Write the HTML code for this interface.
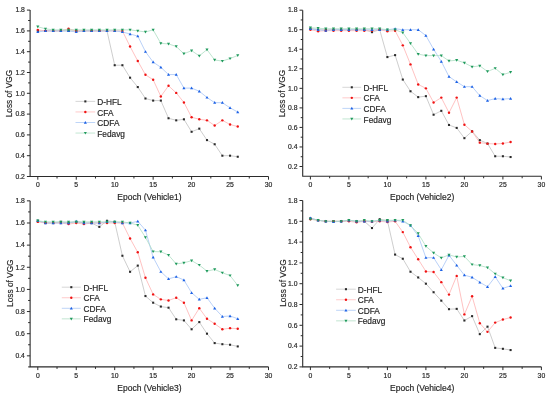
<!DOCTYPE html>
<html><head><meta charset="utf-8"><style>
html,body{margin:0;padding:0;background:#fff;}
body{width:550px;height:397px;overflow:hidden;}
svg{display:block;font-family:"Liberation Sans", sans-serif;will-change:transform;} text{stroke:#2a2a2a;stroke-width:0.18px;}
</style></head><body>
<svg width="550" height="397" viewBox="0 0 550 397">
<rect width="550" height="397" fill="#fff"/>
<g><path d="M30.11 10.10V176.50H268.50" fill="none" stroke="#2b2b2b" stroke-width="1.1"/><text x="24.91" y="178.80" text-anchor="end" font-size="6.8" fill="#1e1e1e">0.2</text><text x="24.91" y="158.00" text-anchor="end" font-size="6.8" fill="#1e1e1e">0.4</text><text x="24.91" y="137.20" text-anchor="end" font-size="6.8" fill="#1e1e1e">0.6</text><text x="24.91" y="116.40" text-anchor="end" font-size="6.8" fill="#1e1e1e">0.8</text><text x="24.91" y="95.60" text-anchor="end" font-size="6.8" fill="#1e1e1e">1.0</text><text x="24.91" y="74.80" text-anchor="end" font-size="6.8" fill="#1e1e1e">1.2</text><text x="24.91" y="54.00" text-anchor="end" font-size="6.8" fill="#1e1e1e">1.4</text><text x="24.91" y="33.20" text-anchor="end" font-size="6.8" fill="#1e1e1e">1.6</text><text x="24.91" y="12.40" text-anchor="end" font-size="6.8" fill="#1e1e1e">1.8</text><text x="37.80" y="187.30" text-anchor="middle" font-size="6.8" fill="#1e1e1e">0</text><text x="76.25" y="187.30" text-anchor="middle" font-size="6.8" fill="#1e1e1e">5</text><text x="114.70" y="187.30" text-anchor="middle" font-size="6.8" fill="#1e1e1e">10</text><text x="153.15" y="187.30" text-anchor="middle" font-size="6.8" fill="#1e1e1e">15</text><text x="191.60" y="187.30" text-anchor="middle" font-size="6.8" fill="#1e1e1e">20</text><text x="230.05" y="187.30" text-anchor="middle" font-size="6.8" fill="#1e1e1e">25</text><text x="268.50" y="187.30" text-anchor="middle" font-size="6.8" fill="#1e1e1e">30</text><path d="M26.91 176.50H30.11M28.11 166.10H30.11M26.91 155.70H30.11M28.11 145.30H30.11M26.91 134.90H30.11M28.11 124.50H30.11M26.91 114.10H30.11M28.11 103.70H30.11M26.91 93.30H30.11M28.11 82.90H30.11M26.91 72.50H30.11M28.11 62.10H30.11M26.91 51.70H30.11M28.11 41.30H30.11M26.91 30.90H30.11M28.11 20.50H30.11M26.91 10.10H30.11M37.80 176.50v3.2M76.25 176.50v3.2M114.70 176.50v3.2M153.15 176.50v3.2M191.60 176.50v3.2M230.05 176.50v3.2M268.50 176.50v3.2M57.02 176.50v2M95.47 176.50v2M133.93 176.50v2M172.38 176.50v2M210.82 176.50v2M249.28 176.50v2" stroke="#2b2b2b" stroke-width="1"/><text x="149.41" y="200.10" text-anchor="middle" font-size="8.5" fill="#1e1e1e">Epoch (Vehicle1)</text><text transform="translate(12.30 93.60) rotate(-90)" text-anchor="middle" font-size="8.3" fill="#1e1e1e">Loss of VGG</text><polyline points="37.80,30.90 45.49,30.90 53.18,30.90 60.87,30.90 68.56,30.90 76.25,30.90 83.94,30.90 91.63,30.90 99.32,30.90 107.01,30.90 114.70,65.22 122.39,65.22 130.08,77.70 137.77,87.06 145.46,98.50 153.15,100.58 160.84,100.58 168.53,118.26 176.22,120.34 183.91,119.30 191.60,131.78 199.29,128.66 206.98,140.10 214.67,144.26 222.36,155.70 230.05,155.70 237.74,156.74" fill="none" stroke="#bdbdbd" stroke-width="0.75"/><polyline points="37.80,29.86 45.49,30.90 53.18,30.90 60.87,30.90 68.56,28.82 76.25,30.90 83.94,30.90 91.63,30.90 99.32,30.90 107.01,30.90 114.70,30.90 122.39,30.90 130.08,46.50 137.77,61.06 145.46,74.79 153.15,79.78 160.84,96.42 168.53,85.81 176.22,92.88 183.91,102.45 191.60,117.22 199.29,119.30 206.98,120.34 214.67,125.54 222.36,120.34 230.05,124.50 237.74,126.58" fill="none" stroke="#ffadad" stroke-width="0.75"/><polyline points="37.80,31.94 45.49,30.90 53.18,30.90 60.87,30.90 68.56,30.90 76.25,31.94 83.94,30.90 91.63,30.90 99.32,30.90 107.01,30.90 114.70,30.90 122.39,31.94 130.08,34.02 137.77,36.10 145.46,51.70 153.15,62.10 160.84,67.30 168.53,74.58 176.22,74.58 183.91,88.10 191.60,88.10 199.29,91.22 206.98,97.46 214.67,102.66 222.36,102.66 230.05,107.86 237.74,112.02" fill="none" stroke="#a3c2f5" stroke-width="0.75"/><polyline points="37.80,26.74 45.49,28.82 53.18,29.86 60.87,29.86 68.56,29.86 76.25,29.86 83.94,29.86 91.63,29.86 99.32,29.86 107.01,29.86 114.70,29.86 122.39,29.86 130.08,29.86 137.77,30.90 145.46,31.94 153.15,29.86 160.84,43.38 168.53,43.90 176.22,46.50 183.91,53.78 191.60,50.66 199.29,55.86 206.98,49.62 214.67,60.02 222.36,61.06 230.05,58.56 237.74,55.44" fill="none" stroke="#a9dcc0" stroke-width="0.75"/><rect x="36.77" y="29.86" width="2.07" height="2.07" fill="#2a2a2a"/><rect x="44.45" y="29.86" width="2.07" height="2.07" fill="#2a2a2a"/><rect x="52.15" y="29.86" width="2.07" height="2.07" fill="#2a2a2a"/><rect x="59.84" y="29.86" width="2.07" height="2.07" fill="#2a2a2a"/><rect x="67.53" y="29.86" width="2.07" height="2.07" fill="#2a2a2a"/><rect x="75.22" y="29.86" width="2.07" height="2.07" fill="#2a2a2a"/><rect x="82.91" y="29.86" width="2.07" height="2.07" fill="#2a2a2a"/><rect x="90.59" y="29.86" width="2.07" height="2.07" fill="#2a2a2a"/><rect x="98.28" y="29.86" width="2.07" height="2.07" fill="#2a2a2a"/><rect x="105.98" y="29.86" width="2.07" height="2.07" fill="#2a2a2a"/><rect x="113.67" y="64.19" width="2.07" height="2.07" fill="#2a2a2a"/><rect x="121.36" y="64.19" width="2.07" height="2.07" fill="#2a2a2a"/><rect x="129.04" y="76.67" width="2.07" height="2.07" fill="#2a2a2a"/><rect x="136.73" y="86.02" width="2.07" height="2.07" fill="#2a2a2a"/><rect x="144.43" y="97.47" width="2.07" height="2.07" fill="#2a2a2a"/><rect x="152.12" y="99.55" width="2.07" height="2.07" fill="#2a2a2a"/><rect x="159.81" y="99.55" width="2.07" height="2.07" fill="#2a2a2a"/><rect x="167.50" y="117.22" width="2.07" height="2.07" fill="#2a2a2a"/><rect x="175.19" y="119.31" width="2.07" height="2.07" fill="#2a2a2a"/><rect x="182.88" y="118.27" width="2.07" height="2.07" fill="#2a2a2a"/><rect x="190.57" y="130.75" width="2.07" height="2.07" fill="#2a2a2a"/><rect x="198.26" y="127.62" width="2.07" height="2.07" fill="#2a2a2a"/><rect x="205.95" y="139.06" width="2.07" height="2.07" fill="#2a2a2a"/><rect x="213.64" y="143.22" width="2.07" height="2.07" fill="#2a2a2a"/><rect x="221.33" y="154.66" width="2.07" height="2.07" fill="#2a2a2a"/><rect x="229.02" y="154.66" width="2.07" height="2.07" fill="#2a2a2a"/><rect x="236.71" y="155.71" width="2.07" height="2.07" fill="#2a2a2a"/><circle cx="37.80" cy="29.86" r="1.21" fill="#f01414"/><circle cx="45.49" cy="30.90" r="1.21" fill="#f01414"/><circle cx="53.18" cy="30.90" r="1.21" fill="#f01414"/><circle cx="60.87" cy="30.90" r="1.21" fill="#f01414"/><circle cx="68.56" cy="28.82" r="1.21" fill="#f01414"/><circle cx="76.25" cy="30.90" r="1.21" fill="#f01414"/><circle cx="83.94" cy="30.90" r="1.21" fill="#f01414"/><circle cx="91.63" cy="30.90" r="1.21" fill="#f01414"/><circle cx="99.32" cy="30.90" r="1.21" fill="#f01414"/><circle cx="107.01" cy="30.90" r="1.21" fill="#f01414"/><circle cx="114.70" cy="30.90" r="1.21" fill="#f01414"/><circle cx="122.39" cy="30.90" r="1.21" fill="#f01414"/><circle cx="130.08" cy="46.50" r="1.21" fill="#f01414"/><circle cx="137.77" cy="61.06" r="1.21" fill="#f01414"/><circle cx="145.46" cy="74.79" r="1.21" fill="#f01414"/><circle cx="153.15" cy="79.78" r="1.21" fill="#f01414"/><circle cx="160.84" cy="96.42" r="1.21" fill="#f01414"/><circle cx="168.53" cy="85.81" r="1.21" fill="#f01414"/><circle cx="176.22" cy="92.88" r="1.21" fill="#f01414"/><circle cx="183.91" cy="102.45" r="1.21" fill="#f01414"/><circle cx="191.60" cy="117.22" r="1.21" fill="#f01414"/><circle cx="199.29" cy="119.30" r="1.21" fill="#f01414"/><circle cx="206.98" cy="120.34" r="1.21" fill="#f01414"/><circle cx="214.67" cy="125.54" r="1.21" fill="#f01414"/><circle cx="222.36" cy="120.34" r="1.21" fill="#f01414"/><circle cx="230.05" cy="124.50" r="1.21" fill="#f01414"/><circle cx="237.74" cy="126.58" r="1.21" fill="#f01414"/><path d="M37.80 30.39L39.35 33.10L36.25 33.10Z" fill="#1d62e6"/><path d="M45.49 29.35L47.04 32.06L43.94 32.06Z" fill="#1d62e6"/><path d="M53.18 29.35L54.73 32.06L51.63 32.06Z" fill="#1d62e6"/><path d="M60.87 29.35L62.42 32.06L59.32 32.06Z" fill="#1d62e6"/><path d="M68.56 29.35L70.11 32.06L67.01 32.06Z" fill="#1d62e6"/><path d="M76.25 30.39L77.80 33.10L74.70 33.10Z" fill="#1d62e6"/><path d="M83.94 29.35L85.49 32.06L82.39 32.06Z" fill="#1d62e6"/><path d="M91.63 29.35L93.18 32.06L90.08 32.06Z" fill="#1d62e6"/><path d="M99.32 29.35L100.87 32.06L97.77 32.06Z" fill="#1d62e6"/><path d="M107.01 29.35L108.56 32.06L105.46 32.06Z" fill="#1d62e6"/><path d="M114.70 29.35L116.25 32.06L113.15 32.06Z" fill="#1d62e6"/><path d="M122.39 30.39L123.94 33.10L120.84 33.10Z" fill="#1d62e6"/><path d="M130.08 32.47L131.63 35.18L128.53 35.18Z" fill="#1d62e6"/><path d="M137.77 34.55L139.32 37.26L136.22 37.26Z" fill="#1d62e6"/><path d="M145.46 50.15L147.01 52.86L143.91 52.86Z" fill="#1d62e6"/><path d="M153.15 60.55L154.70 63.26L151.60 63.26Z" fill="#1d62e6"/><path d="M160.84 65.75L162.39 68.46L159.29 68.46Z" fill="#1d62e6"/><path d="M168.53 73.03L170.08 75.74L166.98 75.74Z" fill="#1d62e6"/><path d="M176.22 73.03L177.77 75.74L174.67 75.74Z" fill="#1d62e6"/><path d="M183.91 86.55L185.46 89.26L182.36 89.26Z" fill="#1d62e6"/><path d="M191.60 86.55L193.15 89.26L190.05 89.26Z" fill="#1d62e6"/><path d="M199.29 89.67L200.84 92.38L197.74 92.38Z" fill="#1d62e6"/><path d="M206.98 95.91L208.53 98.62L205.43 98.62Z" fill="#1d62e6"/><path d="M214.67 101.11L216.22 103.82L213.12 103.82Z" fill="#1d62e6"/><path d="M222.36 101.11L223.91 103.82L220.81 103.82Z" fill="#1d62e6"/><path d="M230.05 106.31L231.60 109.02L228.50 109.02Z" fill="#1d62e6"/><path d="M237.74 110.47L239.29 113.18L236.19 113.18Z" fill="#1d62e6"/><path d="M37.80 28.29L39.35 25.58L36.25 25.58Z" fill="#1f9a5c"/><path d="M45.49 30.37L47.04 27.66L43.94 27.66Z" fill="#1f9a5c"/><path d="M53.18 31.41L54.73 28.70L51.63 28.70Z" fill="#1f9a5c"/><path d="M60.87 31.41L62.42 28.70L59.32 28.70Z" fill="#1f9a5c"/><path d="M68.56 31.41L70.11 28.70L67.01 28.70Z" fill="#1f9a5c"/><path d="M76.25 31.41L77.80 28.70L74.70 28.70Z" fill="#1f9a5c"/><path d="M83.94 31.41L85.49 28.70L82.39 28.70Z" fill="#1f9a5c"/><path d="M91.63 31.41L93.18 28.70L90.08 28.70Z" fill="#1f9a5c"/><path d="M99.32 31.41L100.87 28.70L97.77 28.70Z" fill="#1f9a5c"/><path d="M107.01 31.41L108.56 28.70L105.46 28.70Z" fill="#1f9a5c"/><path d="M114.70 31.41L116.25 28.70L113.15 28.70Z" fill="#1f9a5c"/><path d="M122.39 31.41L123.94 28.70L120.84 28.70Z" fill="#1f9a5c"/><path d="M130.08 31.41L131.63 28.70L128.53 28.70Z" fill="#1f9a5c"/><path d="M137.77 32.45L139.32 29.74L136.22 29.74Z" fill="#1f9a5c"/><path d="M145.46 33.49L147.01 30.78L143.91 30.78Z" fill="#1f9a5c"/><path d="M153.15 31.41L154.70 28.70L151.60 28.70Z" fill="#1f9a5c"/><path d="M160.84 44.93L162.39 42.22L159.29 42.22Z" fill="#1f9a5c"/><path d="M168.53 45.45L170.08 42.74L166.98 42.74Z" fill="#1f9a5c"/><path d="M176.22 48.05L177.77 45.34L174.67 45.34Z" fill="#1f9a5c"/><path d="M183.91 55.33L185.46 52.62L182.36 52.62Z" fill="#1f9a5c"/><path d="M191.60 52.21L193.15 49.50L190.05 49.50Z" fill="#1f9a5c"/><path d="M199.29 57.41L200.84 54.70L197.74 54.70Z" fill="#1f9a5c"/><path d="M206.98 51.17L208.53 48.46L205.43 48.46Z" fill="#1f9a5c"/><path d="M214.67 61.57L216.22 58.86L213.12 58.86Z" fill="#1f9a5c"/><path d="M222.36 62.61L223.91 59.90L220.81 59.90Z" fill="#1f9a5c"/><path d="M230.05 60.12L231.60 57.40L228.50 57.40Z" fill="#1f9a5c"/><path d="M237.74 57.00L239.29 54.28L236.19 54.28Z" fill="#1f9a5c"/><path d="M75.50 101.40H95.20" stroke="#cdcdcd" stroke-width="0.8"/><rect x="84.31" y="100.37" width="2.07" height="2.07" fill="#2a2a2a"/><text x="97.30" y="105.00" font-size="8.3" fill="#1e1e1e">D-HFL</text><path d="M75.50 111.95H95.20" stroke="#ffbcbc" stroke-width="0.8"/><circle cx="85.35" cy="111.95" r="1.21" fill="#f01414"/><text x="97.30" y="115.55" font-size="8.3" fill="#1e1e1e">CFA</text><path d="M75.50 122.50H95.20" stroke="#adcaf6" stroke-width="0.8"/><path d="M85.35 120.95L86.90 123.66L83.80 123.66Z" fill="#1d62e6"/><text x="97.30" y="126.10" font-size="8.3" fill="#1e1e1e">CDFA</text><path d="M75.50 133.05H95.20" stroke="#b3e0c7" stroke-width="0.8"/><path d="M85.35 134.60L86.90 131.89L83.80 131.89Z" fill="#1f9a5c"/><text x="97.30" y="136.65" font-size="8.3" fill="#1e1e1e">Fedavg</text></g>
<g><path d="M302.70 10.18V176.27H541.40" fill="none" stroke="#2b2b2b" stroke-width="1.1"/><text x="297.50" y="168.80" text-anchor="end" font-size="6.8" fill="#1e1e1e">0.2</text><text x="297.50" y="149.26" text-anchor="end" font-size="6.8" fill="#1e1e1e">0.4</text><text x="297.50" y="129.72" text-anchor="end" font-size="6.8" fill="#1e1e1e">0.6</text><text x="297.50" y="110.18" text-anchor="end" font-size="6.8" fill="#1e1e1e">0.8</text><text x="297.50" y="90.64" text-anchor="end" font-size="6.8" fill="#1e1e1e">1.0</text><text x="297.50" y="71.10" text-anchor="end" font-size="6.8" fill="#1e1e1e">1.2</text><text x="297.50" y="51.56" text-anchor="end" font-size="6.8" fill="#1e1e1e">1.4</text><text x="297.50" y="32.02" text-anchor="end" font-size="6.8" fill="#1e1e1e">1.6</text><text x="297.50" y="12.48" text-anchor="end" font-size="6.8" fill="#1e1e1e">1.8</text><text x="310.40" y="187.30" text-anchor="middle" font-size="6.8" fill="#1e1e1e">0</text><text x="348.90" y="187.30" text-anchor="middle" font-size="6.8" fill="#1e1e1e">5</text><text x="387.40" y="187.30" text-anchor="middle" font-size="6.8" fill="#1e1e1e">10</text><text x="425.90" y="187.30" text-anchor="middle" font-size="6.8" fill="#1e1e1e">15</text><text x="464.40" y="187.30" text-anchor="middle" font-size="6.8" fill="#1e1e1e">20</text><text x="502.90" y="187.30" text-anchor="middle" font-size="6.8" fill="#1e1e1e">25</text><text x="541.40" y="187.30" text-anchor="middle" font-size="6.8" fill="#1e1e1e">30</text><path d="M299.50 166.50H302.70M300.70 156.73H302.70M299.50 146.96H302.70M300.70 137.19H302.70M299.50 127.42H302.70M300.70 117.65H302.70M299.50 107.88H302.70M300.70 98.11H302.70M299.50 88.34H302.70M300.70 78.57H302.70M299.50 68.80H302.70M300.70 59.03H302.70M299.50 49.26H302.70M300.70 39.49H302.70M299.50 29.72H302.70M300.70 19.95H302.70M299.50 10.18H302.70M310.40 176.27v3.2M348.90 176.27v3.2M387.40 176.27v3.2M425.90 176.27v3.2M464.40 176.27v3.2M502.90 176.27v3.2M541.40 176.27v3.2M329.65 176.27v2M368.15 176.27v2M406.65 176.27v2M445.15 176.27v2M483.65 176.27v2M522.15 176.27v2" stroke="#2b2b2b" stroke-width="1"/><text x="422.15" y="200.10" text-anchor="middle" font-size="8.5" fill="#1e1e1e">Epoch (Vehicle2)</text><text transform="translate(285.30 93.50) rotate(-90)" text-anchor="middle" font-size="8.3" fill="#1e1e1e">Loss of VGG</text><polyline points="310.40,28.74 318.10,29.72 325.80,29.72 333.50,29.72 341.20,29.72 348.90,29.72 356.60,29.72 364.30,29.72 372.00,32.16 379.70,29.72 387.40,57.08 395.10,55.12 402.80,79.55 410.50,91.27 418.20,97.13 425.90,96.16 433.60,114.72 441.30,110.81 449.00,124.98 456.70,127.91 464.40,138.17 472.10,131.33 479.80,140.12 487.50,143.54 495.20,156.24 502.90,156.24 510.60,157.02" fill="none" stroke="#bdbdbd" stroke-width="0.75"/><polyline points="310.40,29.72 318.10,31.19 325.80,30.70 333.50,30.70 341.20,30.70 348.90,30.70 356.60,30.70 364.30,30.70 372.00,30.70 379.70,29.72 387.40,31.19 395.10,30.70 402.80,45.35 410.50,64.40 418.20,84.43 425.90,88.34 433.60,102.51 441.30,97.62 449.00,112.76 456.70,97.62 464.40,124.68 472.10,131.43 479.80,142.66 487.50,143.64 495.20,143.93 502.90,143.44 510.60,142.07" fill="none" stroke="#ffadad" stroke-width="0.75"/><polyline points="310.40,28.74 318.10,29.72 325.80,30.70 333.50,29.72 341.20,29.72 348.90,29.72 356.60,29.72 364.30,29.72 372.00,29.72 379.70,29.72 387.40,29.72 395.10,28.74 402.80,29.72 410.50,29.72 418.20,29.72 425.90,35.58 433.60,49.26 441.30,61.47 449.00,76.62 456.70,81.89 464.40,86.68 472.10,86.68 479.80,95.67 487.50,100.55 495.20,98.60 502.90,99.09 510.60,98.60" fill="none" stroke="#a3c2f5" stroke-width="0.75"/><polyline points="310.40,27.77 318.10,28.25 325.80,28.74 333.50,28.74 341.20,28.74 348.90,28.74 356.60,28.74 364.30,28.74 372.00,28.74 379.70,28.74 387.40,29.72 395.10,29.72 402.80,32.65 410.50,43.40 418.20,54.14 425.90,55.61 433.60,55.61 441.30,55.61 449.00,60.98 456.70,60.20 464.40,62.84 472.10,66.85 479.80,65.87 487.50,71.54 495.20,68.31 502.90,74.66 510.60,72.22" fill="none" stroke="#a9dcc0" stroke-width="0.75"/><rect x="309.36" y="27.71" width="2.07" height="2.07" fill="#2a2a2a"/><rect x="317.06" y="28.68" width="2.07" height="2.07" fill="#2a2a2a"/><rect x="324.76" y="28.68" width="2.07" height="2.07" fill="#2a2a2a"/><rect x="332.46" y="28.68" width="2.07" height="2.07" fill="#2a2a2a"/><rect x="340.16" y="28.68" width="2.07" height="2.07" fill="#2a2a2a"/><rect x="347.86" y="28.68" width="2.07" height="2.07" fill="#2a2a2a"/><rect x="355.56" y="28.68" width="2.07" height="2.07" fill="#2a2a2a"/><rect x="363.26" y="28.68" width="2.07" height="2.07" fill="#2a2a2a"/><rect x="370.96" y="31.13" width="2.07" height="2.07" fill="#2a2a2a"/><rect x="378.66" y="28.68" width="2.07" height="2.07" fill="#2a2a2a"/><rect x="386.36" y="56.04" width="2.07" height="2.07" fill="#2a2a2a"/><rect x="394.06" y="54.09" width="2.07" height="2.07" fill="#2a2a2a"/><rect x="401.76" y="78.51" width="2.07" height="2.07" fill="#2a2a2a"/><rect x="409.46" y="90.24" width="2.07" height="2.07" fill="#2a2a2a"/><rect x="417.16" y="96.10" width="2.07" height="2.07" fill="#2a2a2a"/><rect x="424.86" y="95.12" width="2.07" height="2.07" fill="#2a2a2a"/><rect x="432.56" y="113.68" width="2.07" height="2.07" fill="#2a2a2a"/><rect x="440.26" y="109.78" width="2.07" height="2.07" fill="#2a2a2a"/><rect x="447.96" y="123.94" width="2.07" height="2.07" fill="#2a2a2a"/><rect x="455.66" y="126.87" width="2.07" height="2.07" fill="#2a2a2a"/><rect x="463.36" y="137.13" width="2.07" height="2.07" fill="#2a2a2a"/><rect x="471.06" y="130.29" width="2.07" height="2.07" fill="#2a2a2a"/><rect x="478.76" y="139.09" width="2.07" height="2.07" fill="#2a2a2a"/><rect x="486.46" y="142.51" width="2.07" height="2.07" fill="#2a2a2a"/><rect x="494.16" y="155.21" width="2.07" height="2.07" fill="#2a2a2a"/><rect x="501.86" y="155.21" width="2.07" height="2.07" fill="#2a2a2a"/><rect x="509.56" y="155.99" width="2.07" height="2.07" fill="#2a2a2a"/><circle cx="310.40" cy="29.72" r="1.21" fill="#f01414"/><circle cx="318.10" cy="31.19" r="1.21" fill="#f01414"/><circle cx="325.80" cy="30.70" r="1.21" fill="#f01414"/><circle cx="333.50" cy="30.70" r="1.21" fill="#f01414"/><circle cx="341.20" cy="30.70" r="1.21" fill="#f01414"/><circle cx="348.90" cy="30.70" r="1.21" fill="#f01414"/><circle cx="356.60" cy="30.70" r="1.21" fill="#f01414"/><circle cx="364.30" cy="30.70" r="1.21" fill="#f01414"/><circle cx="372.00" cy="30.70" r="1.21" fill="#f01414"/><circle cx="379.70" cy="29.72" r="1.21" fill="#f01414"/><circle cx="387.40" cy="31.19" r="1.21" fill="#f01414"/><circle cx="395.10" cy="30.70" r="1.21" fill="#f01414"/><circle cx="402.80" cy="45.35" r="1.21" fill="#f01414"/><circle cx="410.50" cy="64.40" r="1.21" fill="#f01414"/><circle cx="418.20" cy="84.43" r="1.21" fill="#f01414"/><circle cx="425.90" cy="88.34" r="1.21" fill="#f01414"/><circle cx="433.60" cy="102.51" r="1.21" fill="#f01414"/><circle cx="441.30" cy="97.62" r="1.21" fill="#f01414"/><circle cx="449.00" cy="112.76" r="1.21" fill="#f01414"/><circle cx="456.70" cy="97.62" r="1.21" fill="#f01414"/><circle cx="464.40" cy="124.68" r="1.21" fill="#f01414"/><circle cx="472.10" cy="131.43" r="1.21" fill="#f01414"/><circle cx="479.80" cy="142.66" r="1.21" fill="#f01414"/><circle cx="487.50" cy="143.64" r="1.21" fill="#f01414"/><circle cx="495.20" cy="143.93" r="1.21" fill="#f01414"/><circle cx="502.90" cy="143.44" r="1.21" fill="#f01414"/><circle cx="510.60" cy="142.07" r="1.21" fill="#f01414"/><path d="M310.40 27.19L311.95 29.91L308.85 29.91Z" fill="#1d62e6"/><path d="M318.10 28.17L319.65 30.88L316.55 30.88Z" fill="#1d62e6"/><path d="M325.80 29.14L327.35 31.86L324.25 31.86Z" fill="#1d62e6"/><path d="M333.50 28.17L335.05 30.88L331.95 30.88Z" fill="#1d62e6"/><path d="M341.20 28.17L342.75 30.88L339.65 30.88Z" fill="#1d62e6"/><path d="M348.90 28.17L350.45 30.88L347.35 30.88Z" fill="#1d62e6"/><path d="M356.60 28.17L358.15 30.88L355.05 30.88Z" fill="#1d62e6"/><path d="M364.30 28.17L365.85 30.88L362.75 30.88Z" fill="#1d62e6"/><path d="M372.00 28.17L373.55 30.88L370.45 30.88Z" fill="#1d62e6"/><path d="M379.70 28.17L381.25 30.88L378.15 30.88Z" fill="#1d62e6"/><path d="M387.40 28.17L388.95 30.88L385.85 30.88Z" fill="#1d62e6"/><path d="M395.10 27.19L396.65 29.91L393.55 29.91Z" fill="#1d62e6"/><path d="M402.80 28.17L404.35 30.88L401.25 30.88Z" fill="#1d62e6"/><path d="M410.50 28.17L412.05 30.88L408.95 30.88Z" fill="#1d62e6"/><path d="M418.20 28.17L419.75 30.88L416.65 30.88Z" fill="#1d62e6"/><path d="M425.90 34.03L427.45 36.75L424.35 36.75Z" fill="#1d62e6"/><path d="M433.60 47.71L435.15 50.42L432.05 50.42Z" fill="#1d62e6"/><path d="M441.30 59.92L442.85 62.64L439.75 62.64Z" fill="#1d62e6"/><path d="M449.00 75.06L450.55 77.78L447.45 77.78Z" fill="#1d62e6"/><path d="M456.70 80.34L458.25 83.06L455.15 83.06Z" fill="#1d62e6"/><path d="M464.40 85.13L465.95 87.84L462.85 87.84Z" fill="#1d62e6"/><path d="M472.10 85.13L473.65 87.84L470.55 87.84Z" fill="#1d62e6"/><path d="M479.80 94.11L481.35 96.83L478.25 96.83Z" fill="#1d62e6"/><path d="M487.50 99.00L489.05 101.72L485.95 101.72Z" fill="#1d62e6"/><path d="M495.20 97.05L496.75 99.76L493.65 99.76Z" fill="#1d62e6"/><path d="M502.90 97.53L504.45 100.25L501.35 100.25Z" fill="#1d62e6"/><path d="M510.60 97.05L512.15 99.76L509.05 99.76Z" fill="#1d62e6"/><path d="M310.40 29.32L311.95 26.60L308.85 26.60Z" fill="#1f9a5c"/><path d="M318.10 29.81L319.65 27.09L316.55 27.09Z" fill="#1f9a5c"/><path d="M325.80 30.30L327.35 27.58L324.25 27.58Z" fill="#1f9a5c"/><path d="M333.50 30.30L335.05 27.58L331.95 27.58Z" fill="#1f9a5c"/><path d="M341.20 30.30L342.75 27.58L339.65 27.58Z" fill="#1f9a5c"/><path d="M348.90 30.30L350.45 27.58L347.35 27.58Z" fill="#1f9a5c"/><path d="M356.60 30.30L358.15 27.58L355.05 27.58Z" fill="#1f9a5c"/><path d="M364.30 30.30L365.85 27.58L362.75 27.58Z" fill="#1f9a5c"/><path d="M372.00 30.30L373.55 27.58L370.45 27.58Z" fill="#1f9a5c"/><path d="M379.70 30.30L381.25 27.58L378.15 27.58Z" fill="#1f9a5c"/><path d="M387.40 31.27L388.95 28.56L385.85 28.56Z" fill="#1f9a5c"/><path d="M395.10 31.27L396.65 28.56L393.55 28.56Z" fill="#1f9a5c"/><path d="M402.80 34.20L404.35 31.49L401.25 31.49Z" fill="#1f9a5c"/><path d="M410.50 44.95L412.05 42.23L408.95 42.23Z" fill="#1f9a5c"/><path d="M418.20 55.70L419.75 52.98L416.65 52.98Z" fill="#1f9a5c"/><path d="M425.90 57.16L427.45 54.45L424.35 54.45Z" fill="#1f9a5c"/><path d="M433.60 57.16L435.15 54.45L432.05 54.45Z" fill="#1f9a5c"/><path d="M441.30 57.16L442.85 54.45L439.75 54.45Z" fill="#1f9a5c"/><path d="M449.00 62.54L450.55 59.82L447.45 59.82Z" fill="#1f9a5c"/><path d="M456.70 61.75L458.25 59.04L455.15 59.04Z" fill="#1f9a5c"/><path d="M464.40 64.39L465.95 61.68L462.85 61.68Z" fill="#1f9a5c"/><path d="M472.10 68.40L473.65 65.68L470.55 65.68Z" fill="#1f9a5c"/><path d="M479.80 67.42L481.35 64.70L478.25 64.70Z" fill="#1f9a5c"/><path d="M487.50 73.09L489.05 70.37L485.95 70.37Z" fill="#1f9a5c"/><path d="M495.20 69.86L496.75 67.15L493.65 67.15Z" fill="#1f9a5c"/><path d="M502.90 76.21L504.45 73.50L501.35 73.50Z" fill="#1f9a5c"/><path d="M510.60 73.77L512.15 71.06L509.05 71.06Z" fill="#1f9a5c"/><path d="M342.40 87.30H361.20" stroke="#cdcdcd" stroke-width="0.8"/><rect x="350.76" y="86.27" width="2.07" height="2.07" fill="#2a2a2a"/><text x="363.60" y="90.90" font-size="8.3" fill="#1e1e1e">D-HFL</text><path d="M342.40 97.85H361.20" stroke="#ffbcbc" stroke-width="0.8"/><circle cx="351.80" cy="97.85" r="1.21" fill="#f01414"/><text x="363.60" y="101.45" font-size="8.3" fill="#1e1e1e">CFA</text><path d="M342.40 108.40H361.20" stroke="#adcaf6" stroke-width="0.8"/><path d="M351.80 106.85L353.35 109.56L350.25 109.56Z" fill="#1d62e6"/><text x="363.60" y="112.00" font-size="8.3" fill="#1e1e1e">CDFA</text><path d="M342.40 118.95H361.20" stroke="#b3e0c7" stroke-width="0.8"/><path d="M351.80 120.50L353.35 117.79L350.25 117.79Z" fill="#1f9a5c"/><text x="363.60" y="122.55" font-size="8.3" fill="#1e1e1e">Fedavg</text></g>
<g><path d="M30.11 200.85V366.90H268.50" fill="none" stroke="#2b2b2b" stroke-width="1.1"/><text x="24.91" y="358.13" text-anchor="end" font-size="6.8" fill="#1e1e1e">0.4</text><text x="24.91" y="335.99" text-anchor="end" font-size="6.8" fill="#1e1e1e">0.6</text><text x="24.91" y="313.85" text-anchor="end" font-size="6.8" fill="#1e1e1e">0.8</text><text x="24.91" y="291.71" text-anchor="end" font-size="6.8" fill="#1e1e1e">1.0</text><text x="24.91" y="269.57" text-anchor="end" font-size="6.8" fill="#1e1e1e">1.2</text><text x="24.91" y="247.43" text-anchor="end" font-size="6.8" fill="#1e1e1e">1.4</text><text x="24.91" y="225.29" text-anchor="end" font-size="6.8" fill="#1e1e1e">1.6</text><text x="24.91" y="203.15" text-anchor="end" font-size="6.8" fill="#1e1e1e">1.8</text><text x="37.80" y="377.80" text-anchor="middle" font-size="6.8" fill="#1e1e1e">0</text><text x="76.25" y="377.80" text-anchor="middle" font-size="6.8" fill="#1e1e1e">5</text><text x="114.70" y="377.80" text-anchor="middle" font-size="6.8" fill="#1e1e1e">10</text><text x="153.15" y="377.80" text-anchor="middle" font-size="6.8" fill="#1e1e1e">15</text><text x="191.60" y="377.80" text-anchor="middle" font-size="6.8" fill="#1e1e1e">20</text><text x="230.05" y="377.80" text-anchor="middle" font-size="6.8" fill="#1e1e1e">25</text><text x="268.50" y="377.80" text-anchor="middle" font-size="6.8" fill="#1e1e1e">30</text><path d="M28.11 366.90H30.11M26.91 355.83H30.11M28.11 344.76H30.11M26.91 333.69H30.11M28.11 322.62H30.11M26.91 311.55H30.11M28.11 300.48H30.11M26.91 289.41H30.11M28.11 278.34H30.11M26.91 267.27H30.11M28.11 256.20H30.11M26.91 245.13H30.11M28.11 234.06H30.11M26.91 222.99H30.11M28.11 211.92H30.11M26.91 200.85H30.11M37.80 366.90v3.2M76.25 366.90v3.2M114.70 366.90v3.2M153.15 366.90v3.2M191.60 366.90v3.2M230.05 366.90v3.2M268.50 366.90v3.2M57.02 366.90v2M95.47 366.90v2M133.93 366.90v2M172.38 366.90v2M210.82 366.90v2M249.28 366.90v2" stroke="#2b2b2b" stroke-width="1"/><text x="149.41" y="390.50" text-anchor="middle" font-size="8.5" fill="#1e1e1e">Epoch (Vehicle3)</text><text transform="translate(12.70 283.20) rotate(-90)" text-anchor="middle" font-size="8.3" fill="#1e1e1e">Loss of VGG</text><polyline points="37.80,220.78 45.49,222.99 53.18,222.99 60.87,221.88 68.56,222.99 76.25,221.88 83.94,222.99 91.63,222.99 99.32,226.86 107.01,220.78 114.70,221.88 122.39,255.76 130.08,271.81 137.77,265.61 145.46,296.05 153.15,302.69 160.84,306.57 168.53,307.68 176.22,319.30 183.91,320.41 191.60,329.26 199.29,322.07 206.98,333.69 214.67,343.10 222.36,344.21 230.05,344.76 237.74,346.42" fill="none" stroke="#bdbdbd" stroke-width="0.75"/><polyline points="37.80,221.88 45.49,222.99 53.18,222.99 60.87,222.99 68.56,224.10 76.25,222.99 83.94,224.10 91.63,222.99 99.32,222.99 107.01,222.99 114.70,222.99 122.39,222.99 130.08,238.49 137.77,252.33 145.46,277.79 153.15,294.39 160.84,299.37 168.53,300.48 176.22,297.71 183.91,302.69 191.60,320.41 199.29,308.23 206.98,318.75 214.67,323.73 222.36,329.26 230.05,328.15 237.74,328.71" fill="none" stroke="#ffadad" stroke-width="0.75"/><polyline points="37.80,220.78 45.49,222.99 53.18,222.99 60.87,222.99 68.56,222.99 76.25,221.33 83.94,222.99 91.63,222.99 99.32,222.99 107.01,221.88 114.70,221.88 122.39,222.99 130.08,222.99 137.77,221.33 145.46,230.19 153.15,257.31 160.84,271.70 168.53,278.89 176.22,276.68 183.91,280.00 191.60,292.73 199.29,299.37 206.98,297.71 214.67,308.23 222.36,316.53 230.05,315.98 237.74,318.75" fill="none" stroke="#a3c2f5" stroke-width="0.75"/><polyline points="37.80,220.78 45.49,221.88 53.18,221.88 60.87,221.88 68.56,221.88 76.25,221.88 83.94,221.88 91.63,221.88 99.32,221.88 107.01,221.88 114.70,221.88 122.39,221.88 130.08,222.99 137.77,225.20 145.46,237.38 153.15,251.55 160.84,251.77 168.53,255.09 176.22,263.95 183.91,262.84 191.60,260.63 199.29,265.06 206.98,271.14 214.67,269.48 222.36,272.81 230.05,275.57 237.74,285.42" fill="none" stroke="#a9dcc0" stroke-width="0.75"/><rect x="36.77" y="219.74" width="2.07" height="2.07" fill="#2a2a2a"/><rect x="44.45" y="221.95" width="2.07" height="2.07" fill="#2a2a2a"/><rect x="52.15" y="221.95" width="2.07" height="2.07" fill="#2a2a2a"/><rect x="59.84" y="220.85" width="2.07" height="2.07" fill="#2a2a2a"/><rect x="67.53" y="221.95" width="2.07" height="2.07" fill="#2a2a2a"/><rect x="75.22" y="220.85" width="2.07" height="2.07" fill="#2a2a2a"/><rect x="82.91" y="221.95" width="2.07" height="2.07" fill="#2a2a2a"/><rect x="90.59" y="221.95" width="2.07" height="2.07" fill="#2a2a2a"/><rect x="98.28" y="225.83" width="2.07" height="2.07" fill="#2a2a2a"/><rect x="105.98" y="219.74" width="2.07" height="2.07" fill="#2a2a2a"/><rect x="113.67" y="220.85" width="2.07" height="2.07" fill="#2a2a2a"/><rect x="121.36" y="254.72" width="2.07" height="2.07" fill="#2a2a2a"/><rect x="129.04" y="270.77" width="2.07" height="2.07" fill="#2a2a2a"/><rect x="136.73" y="264.57" width="2.07" height="2.07" fill="#2a2a2a"/><rect x="144.43" y="295.02" width="2.07" height="2.07" fill="#2a2a2a"/><rect x="152.12" y="301.66" width="2.07" height="2.07" fill="#2a2a2a"/><rect x="159.81" y="305.53" width="2.07" height="2.07" fill="#2a2a2a"/><rect x="167.50" y="306.64" width="2.07" height="2.07" fill="#2a2a2a"/><rect x="175.19" y="318.26" width="2.07" height="2.07" fill="#2a2a2a"/><rect x="182.88" y="319.37" width="2.07" height="2.07" fill="#2a2a2a"/><rect x="190.57" y="328.23" width="2.07" height="2.07" fill="#2a2a2a"/><rect x="198.26" y="321.03" width="2.07" height="2.07" fill="#2a2a2a"/><rect x="205.95" y="332.65" width="2.07" height="2.07" fill="#2a2a2a"/><rect x="213.64" y="342.06" width="2.07" height="2.07" fill="#2a2a2a"/><rect x="221.33" y="343.17" width="2.07" height="2.07" fill="#2a2a2a"/><rect x="229.02" y="343.72" width="2.07" height="2.07" fill="#2a2a2a"/><rect x="236.71" y="345.39" width="2.07" height="2.07" fill="#2a2a2a"/><circle cx="37.80" cy="221.88" r="1.21" fill="#f01414"/><circle cx="45.49" cy="222.99" r="1.21" fill="#f01414"/><circle cx="53.18" cy="222.99" r="1.21" fill="#f01414"/><circle cx="60.87" cy="222.99" r="1.21" fill="#f01414"/><circle cx="68.56" cy="224.10" r="1.21" fill="#f01414"/><circle cx="76.25" cy="222.99" r="1.21" fill="#f01414"/><circle cx="83.94" cy="224.10" r="1.21" fill="#f01414"/><circle cx="91.63" cy="222.99" r="1.21" fill="#f01414"/><circle cx="99.32" cy="222.99" r="1.21" fill="#f01414"/><circle cx="107.01" cy="222.99" r="1.21" fill="#f01414"/><circle cx="114.70" cy="222.99" r="1.21" fill="#f01414"/><circle cx="122.39" cy="222.99" r="1.21" fill="#f01414"/><circle cx="130.08" cy="238.49" r="1.21" fill="#f01414"/><circle cx="137.77" cy="252.33" r="1.21" fill="#f01414"/><circle cx="145.46" cy="277.79" r="1.21" fill="#f01414"/><circle cx="153.15" cy="294.39" r="1.21" fill="#f01414"/><circle cx="160.84" cy="299.37" r="1.21" fill="#f01414"/><circle cx="168.53" cy="300.48" r="1.21" fill="#f01414"/><circle cx="176.22" cy="297.71" r="1.21" fill="#f01414"/><circle cx="183.91" cy="302.69" r="1.21" fill="#f01414"/><circle cx="191.60" cy="320.41" r="1.21" fill="#f01414"/><circle cx="199.29" cy="308.23" r="1.21" fill="#f01414"/><circle cx="206.98" cy="318.75" r="1.21" fill="#f01414"/><circle cx="214.67" cy="323.73" r="1.21" fill="#f01414"/><circle cx="222.36" cy="329.26" r="1.21" fill="#f01414"/><circle cx="230.05" cy="328.15" r="1.21" fill="#f01414"/><circle cx="237.74" cy="328.71" r="1.21" fill="#f01414"/><path d="M37.80 219.22L39.35 221.94L36.25 221.94Z" fill="#1d62e6"/><path d="M45.49 221.44L47.04 224.15L43.94 224.15Z" fill="#1d62e6"/><path d="M53.18 221.44L54.73 224.15L51.63 224.15Z" fill="#1d62e6"/><path d="M60.87 221.44L62.42 224.15L59.32 224.15Z" fill="#1d62e6"/><path d="M68.56 221.44L70.11 224.15L67.01 224.15Z" fill="#1d62e6"/><path d="M76.25 219.78L77.80 222.49L74.70 222.49Z" fill="#1d62e6"/><path d="M83.94 221.44L85.49 224.15L82.39 224.15Z" fill="#1d62e6"/><path d="M91.63 221.44L93.18 224.15L90.08 224.15Z" fill="#1d62e6"/><path d="M99.32 221.44L100.87 224.15L97.77 224.15Z" fill="#1d62e6"/><path d="M107.01 220.33L108.56 223.05L105.46 223.05Z" fill="#1d62e6"/><path d="M114.70 220.33L116.25 223.05L113.15 223.05Z" fill="#1d62e6"/><path d="M122.39 221.44L123.94 224.15L120.84 224.15Z" fill="#1d62e6"/><path d="M130.08 221.44L131.63 224.15L128.53 224.15Z" fill="#1d62e6"/><path d="M137.77 219.78L139.32 222.49L136.22 222.49Z" fill="#1d62e6"/><path d="M145.46 228.63L147.01 231.35L143.91 231.35Z" fill="#1d62e6"/><path d="M153.15 255.75L154.70 258.47L151.60 258.47Z" fill="#1d62e6"/><path d="M160.84 270.15L162.39 272.86L159.29 272.86Z" fill="#1d62e6"/><path d="M168.53 277.34L170.08 280.06L166.98 280.06Z" fill="#1d62e6"/><path d="M176.22 275.13L177.77 277.84L174.67 277.84Z" fill="#1d62e6"/><path d="M183.91 278.45L185.46 281.16L182.36 281.16Z" fill="#1d62e6"/><path d="M191.60 291.18L193.15 293.90L190.05 293.90Z" fill="#1d62e6"/><path d="M199.29 297.82L200.84 300.54L197.74 300.54Z" fill="#1d62e6"/><path d="M206.98 296.16L208.53 298.88L205.43 298.88Z" fill="#1d62e6"/><path d="M214.67 306.68L216.22 309.39L213.12 309.39Z" fill="#1d62e6"/><path d="M222.36 314.98L223.91 317.70L220.81 317.70Z" fill="#1d62e6"/><path d="M230.05 314.43L231.60 317.14L228.50 317.14Z" fill="#1d62e6"/><path d="M237.74 317.19L239.29 319.91L236.19 319.91Z" fill="#1d62e6"/><path d="M37.80 222.33L39.35 219.61L36.25 219.61Z" fill="#1f9a5c"/><path d="M45.49 223.44L47.04 220.72L43.94 220.72Z" fill="#1f9a5c"/><path d="M53.18 223.44L54.73 220.72L51.63 220.72Z" fill="#1f9a5c"/><path d="M60.87 223.44L62.42 220.72L59.32 220.72Z" fill="#1f9a5c"/><path d="M68.56 223.44L70.11 220.72L67.01 220.72Z" fill="#1f9a5c"/><path d="M76.25 223.44L77.80 220.72L74.70 220.72Z" fill="#1f9a5c"/><path d="M83.94 223.44L85.49 220.72L82.39 220.72Z" fill="#1f9a5c"/><path d="M91.63 223.44L93.18 220.72L90.08 220.72Z" fill="#1f9a5c"/><path d="M99.32 223.44L100.87 220.72L97.77 220.72Z" fill="#1f9a5c"/><path d="M107.01 223.44L108.56 220.72L105.46 220.72Z" fill="#1f9a5c"/><path d="M114.70 223.44L116.25 220.72L113.15 220.72Z" fill="#1f9a5c"/><path d="M122.39 223.44L123.94 220.72L120.84 220.72Z" fill="#1f9a5c"/><path d="M130.08 224.54L131.63 221.83L128.53 221.83Z" fill="#1f9a5c"/><path d="M137.77 226.76L139.32 224.04L136.22 224.04Z" fill="#1f9a5c"/><path d="M145.46 238.93L147.01 236.22L143.91 236.22Z" fill="#1f9a5c"/><path d="M153.15 253.10L154.70 250.39L151.60 250.39Z" fill="#1f9a5c"/><path d="M160.84 253.32L162.39 250.61L159.29 250.61Z" fill="#1f9a5c"/><path d="M168.53 256.65L170.08 253.93L166.98 253.93Z" fill="#1f9a5c"/><path d="M176.22 265.50L177.77 262.78L174.67 262.78Z" fill="#1f9a5c"/><path d="M183.91 264.39L185.46 261.68L182.36 261.68Z" fill="#1f9a5c"/><path d="M191.60 262.18L193.15 259.46L190.05 259.46Z" fill="#1f9a5c"/><path d="M199.29 266.61L200.84 263.89L197.74 263.89Z" fill="#1f9a5c"/><path d="M206.98 272.70L208.53 269.98L205.43 269.98Z" fill="#1f9a5c"/><path d="M214.67 271.04L216.22 268.32L213.12 268.32Z" fill="#1f9a5c"/><path d="M222.36 274.36L223.91 271.64L220.81 271.64Z" fill="#1f9a5c"/><path d="M230.05 277.12L231.60 274.41L228.50 274.41Z" fill="#1f9a5c"/><path d="M237.74 286.98L239.29 284.26L236.19 284.26Z" fill="#1f9a5c"/><path d="M61.80 287.20H80.80" stroke="#cdcdcd" stroke-width="0.8"/><rect x="70.27" y="286.16" width="2.07" height="2.07" fill="#2a2a2a"/><text x="83.60" y="290.80" font-size="8.3" fill="#1e1e1e">D-HFL</text><path d="M61.80 297.75H80.80" stroke="#ffbcbc" stroke-width="0.8"/><circle cx="71.30" cy="297.75" r="1.21" fill="#f01414"/><text x="83.60" y="301.35" font-size="8.3" fill="#1e1e1e">CFA</text><path d="M61.80 308.30H80.80" stroke="#adcaf6" stroke-width="0.8"/><path d="M71.30 306.75L72.85 309.46L69.75 309.46Z" fill="#1d62e6"/><text x="83.60" y="311.90" font-size="8.3" fill="#1e1e1e">CDFA</text><path d="M61.80 318.85H80.80" stroke="#b3e0c7" stroke-width="0.8"/><path d="M71.30 320.40L72.85 317.69L69.75 317.69Z" fill="#1f9a5c"/><text x="83.60" y="322.45" font-size="8.3" fill="#1e1e1e">Fedavg</text></g>
<g><path d="M302.70 200.50V366.90H541.40" fill="none" stroke="#2b2b2b" stroke-width="1.1"/><text x="297.50" y="369.20" text-anchor="end" font-size="6.8" fill="#1e1e1e">0.2</text><text x="297.50" y="348.40" text-anchor="end" font-size="6.8" fill="#1e1e1e">0.4</text><text x="297.50" y="327.60" text-anchor="end" font-size="6.8" fill="#1e1e1e">0.6</text><text x="297.50" y="306.80" text-anchor="end" font-size="6.8" fill="#1e1e1e">0.8</text><text x="297.50" y="286.00" text-anchor="end" font-size="6.8" fill="#1e1e1e">1.0</text><text x="297.50" y="265.20" text-anchor="end" font-size="6.8" fill="#1e1e1e">1.2</text><text x="297.50" y="244.40" text-anchor="end" font-size="6.8" fill="#1e1e1e">1.4</text><text x="297.50" y="223.60" text-anchor="end" font-size="6.8" fill="#1e1e1e">1.6</text><text x="297.50" y="202.80" text-anchor="end" font-size="6.8" fill="#1e1e1e">1.8</text><text x="310.40" y="377.80" text-anchor="middle" font-size="6.8" fill="#1e1e1e">0</text><text x="348.90" y="377.80" text-anchor="middle" font-size="6.8" fill="#1e1e1e">5</text><text x="387.40" y="377.80" text-anchor="middle" font-size="6.8" fill="#1e1e1e">10</text><text x="425.90" y="377.80" text-anchor="middle" font-size="6.8" fill="#1e1e1e">15</text><text x="464.40" y="377.80" text-anchor="middle" font-size="6.8" fill="#1e1e1e">20</text><text x="502.90" y="377.80" text-anchor="middle" font-size="6.8" fill="#1e1e1e">25</text><text x="541.40" y="377.80" text-anchor="middle" font-size="6.8" fill="#1e1e1e">30</text><path d="M299.50 366.90H302.70M300.70 356.50H302.70M299.50 346.10H302.70M300.70 335.70H302.70M299.50 325.30H302.70M300.70 314.90H302.70M299.50 304.50H302.70M300.70 294.10H302.70M299.50 283.70H302.70M300.70 273.30H302.70M299.50 262.90H302.70M300.70 252.50H302.70M299.50 242.10H302.70M300.70 231.70H302.70M299.50 221.30H302.70M300.70 210.90H302.70M299.50 200.50H302.70M310.40 366.90v3.2M348.90 366.90v3.2M387.40 366.90v3.2M425.90 366.90v3.2M464.40 366.90v3.2M502.90 366.90v3.2M541.40 366.90v3.2M329.65 366.90v2M368.15 366.90v2M406.65 366.90v2M445.15 366.90v2M483.65 366.90v2M522.15 366.90v2" stroke="#2b2b2b" stroke-width="1"/><text x="422.15" y="390.50" text-anchor="middle" font-size="8.5" fill="#1e1e1e">Epoch (Vehicle4)</text><text transform="translate(285.60 283.00) rotate(-90)" text-anchor="middle" font-size="8.3" fill="#1e1e1e">Loss of VGG</text><polyline points="310.40,218.18 318.10,220.26 325.80,221.30 333.50,221.30 341.20,221.30 348.90,220.26 356.60,221.30 364.30,221.30 372.00,228.06 379.70,219.22 387.40,220.57 395.10,254.58 402.80,258.74 410.50,271.74 418.20,277.46 425.90,283.70 433.60,292.23 441.30,300.65 449.00,309.18 456.70,308.87 464.40,320.52 472.10,316.15 479.80,334.14 487.50,326.65 495.20,347.87 502.90,348.80 510.60,350.05" fill="none" stroke="#bdbdbd" stroke-width="0.75"/><polyline points="310.40,219.22 318.10,220.26 325.80,221.30 333.50,221.30 341.20,221.30 348.90,221.30 356.60,222.34 364.30,221.30 372.00,221.82 379.70,221.30 387.40,222.03 395.10,221.30 402.80,232.12 410.50,247.20 418.20,259.26 425.90,271.43 433.60,272.05 441.30,282.14 449.00,294.62 456.70,275.90 464.40,314.38 472.10,296.18 479.80,323.22 487.50,331.85 495.20,322.60 502.90,319.58 510.60,317.50" fill="none" stroke="#ffadad" stroke-width="0.75"/><polyline points="310.40,217.97 318.10,220.26 325.80,221.30 333.50,221.82 341.20,221.30 348.90,220.26 356.60,221.30 364.30,221.30 372.00,221.30 379.70,220.26 387.40,221.30 395.10,220.26 402.80,221.30 410.50,225.46 418.20,235.86 425.90,257.70 433.60,257.70 441.30,269.76 449.00,255.31 456.70,265.29 464.40,275.17 472.10,277.25 479.80,282.24 487.50,286.72 495.20,276.84 502.90,288.38 510.60,285.78" fill="none" stroke="#a3c2f5" stroke-width="0.75"/><polyline points="310.40,219.22 318.10,220.26 325.80,221.30 333.50,221.30 341.20,221.30 348.90,220.26 356.60,221.30 364.30,220.26 372.00,221.30 379.70,220.26 387.40,220.26 395.10,220.26 402.80,220.26 410.50,225.46 418.20,233.47 425.90,246.26 433.60,252.92 441.30,257.91 449.00,254.89 456.70,256.97 464.40,256.45 472.10,264.56 479.80,265.50 487.50,267.58 495.20,273.82 502.90,277.67 510.60,280.79" fill="none" stroke="#a9dcc0" stroke-width="0.75"/><rect x="309.36" y="217.14" width="2.07" height="2.07" fill="#2a2a2a"/><rect x="317.06" y="219.22" width="2.07" height="2.07" fill="#2a2a2a"/><rect x="324.76" y="220.26" width="2.07" height="2.07" fill="#2a2a2a"/><rect x="332.46" y="220.26" width="2.07" height="2.07" fill="#2a2a2a"/><rect x="340.16" y="220.26" width="2.07" height="2.07" fill="#2a2a2a"/><rect x="347.86" y="219.22" width="2.07" height="2.07" fill="#2a2a2a"/><rect x="355.56" y="220.26" width="2.07" height="2.07" fill="#2a2a2a"/><rect x="363.26" y="220.26" width="2.07" height="2.07" fill="#2a2a2a"/><rect x="370.96" y="227.02" width="2.07" height="2.07" fill="#2a2a2a"/><rect x="378.66" y="218.18" width="2.07" height="2.07" fill="#2a2a2a"/><rect x="386.36" y="219.54" width="2.07" height="2.07" fill="#2a2a2a"/><rect x="394.06" y="253.54" width="2.07" height="2.07" fill="#2a2a2a"/><rect x="401.76" y="257.70" width="2.07" height="2.07" fill="#2a2a2a"/><rect x="409.46" y="270.70" width="2.07" height="2.07" fill="#2a2a2a"/><rect x="417.16" y="276.42" width="2.07" height="2.07" fill="#2a2a2a"/><rect x="424.86" y="282.66" width="2.07" height="2.07" fill="#2a2a2a"/><rect x="432.56" y="291.19" width="2.07" height="2.07" fill="#2a2a2a"/><rect x="440.26" y="299.62" width="2.07" height="2.07" fill="#2a2a2a"/><rect x="447.96" y="308.14" width="2.07" height="2.07" fill="#2a2a2a"/><rect x="455.66" y="307.83" width="2.07" height="2.07" fill="#2a2a2a"/><rect x="463.36" y="319.48" width="2.07" height="2.07" fill="#2a2a2a"/><rect x="471.06" y="315.11" width="2.07" height="2.07" fill="#2a2a2a"/><rect x="478.76" y="333.10" width="2.07" height="2.07" fill="#2a2a2a"/><rect x="486.46" y="325.62" width="2.07" height="2.07" fill="#2a2a2a"/><rect x="494.16" y="346.83" width="2.07" height="2.07" fill="#2a2a2a"/><rect x="501.86" y="347.77" width="2.07" height="2.07" fill="#2a2a2a"/><rect x="509.56" y="349.02" width="2.07" height="2.07" fill="#2a2a2a"/><circle cx="310.40" cy="219.22" r="1.21" fill="#f01414"/><circle cx="318.10" cy="220.26" r="1.21" fill="#f01414"/><circle cx="325.80" cy="221.30" r="1.21" fill="#f01414"/><circle cx="333.50" cy="221.30" r="1.21" fill="#f01414"/><circle cx="341.20" cy="221.30" r="1.21" fill="#f01414"/><circle cx="348.90" cy="221.30" r="1.21" fill="#f01414"/><circle cx="356.60" cy="222.34" r="1.21" fill="#f01414"/><circle cx="364.30" cy="221.30" r="1.21" fill="#f01414"/><circle cx="372.00" cy="221.82" r="1.21" fill="#f01414"/><circle cx="379.70" cy="221.30" r="1.21" fill="#f01414"/><circle cx="387.40" cy="222.03" r="1.21" fill="#f01414"/><circle cx="395.10" cy="221.30" r="1.21" fill="#f01414"/><circle cx="402.80" cy="232.12" r="1.21" fill="#f01414"/><circle cx="410.50" cy="247.20" r="1.21" fill="#f01414"/><circle cx="418.20" cy="259.26" r="1.21" fill="#f01414"/><circle cx="425.90" cy="271.43" r="1.21" fill="#f01414"/><circle cx="433.60" cy="272.05" r="1.21" fill="#f01414"/><circle cx="441.30" cy="282.14" r="1.21" fill="#f01414"/><circle cx="449.00" cy="294.62" r="1.21" fill="#f01414"/><circle cx="456.70" cy="275.90" r="1.21" fill="#f01414"/><circle cx="464.40" cy="314.38" r="1.21" fill="#f01414"/><circle cx="472.10" cy="296.18" r="1.21" fill="#f01414"/><circle cx="479.80" cy="323.22" r="1.21" fill="#f01414"/><circle cx="487.50" cy="331.85" r="1.21" fill="#f01414"/><circle cx="495.20" cy="322.60" r="1.21" fill="#f01414"/><circle cx="502.90" cy="319.58" r="1.21" fill="#f01414"/><circle cx="510.60" cy="317.50" r="1.21" fill="#f01414"/><path d="M310.40 216.42L311.95 219.14L308.85 219.14Z" fill="#1d62e6"/><path d="M318.10 218.71L319.65 221.42L316.55 221.42Z" fill="#1d62e6"/><path d="M325.80 219.75L327.35 222.46L324.25 222.46Z" fill="#1d62e6"/><path d="M333.50 220.27L335.05 222.98L331.95 222.98Z" fill="#1d62e6"/><path d="M341.20 219.75L342.75 222.46L339.65 222.46Z" fill="#1d62e6"/><path d="M348.90 218.71L350.45 221.42L347.35 221.42Z" fill="#1d62e6"/><path d="M356.60 219.75L358.15 222.46L355.05 222.46Z" fill="#1d62e6"/><path d="M364.30 219.75L365.85 222.46L362.75 222.46Z" fill="#1d62e6"/><path d="M372.00 219.75L373.55 222.46L370.45 222.46Z" fill="#1d62e6"/><path d="M379.70 218.71L381.25 221.42L378.15 221.42Z" fill="#1d62e6"/><path d="M387.40 219.75L388.95 222.46L385.85 222.46Z" fill="#1d62e6"/><path d="M395.10 218.71L396.65 221.42L393.55 221.42Z" fill="#1d62e6"/><path d="M402.80 219.75L404.35 222.46L401.25 222.46Z" fill="#1d62e6"/><path d="M410.50 223.91L412.05 226.62L408.95 226.62Z" fill="#1d62e6"/><path d="M418.20 234.31L419.75 237.02L416.65 237.02Z" fill="#1d62e6"/><path d="M425.90 256.15L427.45 258.86L424.35 258.86Z" fill="#1d62e6"/><path d="M433.60 256.15L435.15 258.86L432.05 258.86Z" fill="#1d62e6"/><path d="M441.30 268.21L442.85 270.93L439.75 270.93Z" fill="#1d62e6"/><path d="M449.00 253.76L450.55 256.47L447.45 256.47Z" fill="#1d62e6"/><path d="M456.70 263.74L458.25 266.46L455.15 266.46Z" fill="#1d62e6"/><path d="M464.40 273.62L465.95 276.34L462.85 276.34Z" fill="#1d62e6"/><path d="M472.10 275.70L473.65 278.42L470.55 278.42Z" fill="#1d62e6"/><path d="M479.80 280.69L481.35 283.41L478.25 283.41Z" fill="#1d62e6"/><path d="M487.50 285.16L489.05 287.88L485.95 287.88Z" fill="#1d62e6"/><path d="M495.20 275.28L496.75 278.00L493.65 278.00Z" fill="#1d62e6"/><path d="M502.90 286.83L504.45 289.54L501.35 289.54Z" fill="#1d62e6"/><path d="M510.60 284.23L512.15 286.94L509.05 286.94Z" fill="#1d62e6"/><path d="M310.40 220.77L311.95 218.06L308.85 218.06Z" fill="#1f9a5c"/><path d="M318.10 221.81L319.65 219.10L316.55 219.10Z" fill="#1f9a5c"/><path d="M325.80 222.85L327.35 220.14L324.25 220.14Z" fill="#1f9a5c"/><path d="M333.50 222.85L335.05 220.14L331.95 220.14Z" fill="#1f9a5c"/><path d="M341.20 222.85L342.75 220.14L339.65 220.14Z" fill="#1f9a5c"/><path d="M348.90 221.81L350.45 219.10L347.35 219.10Z" fill="#1f9a5c"/><path d="M356.60 222.85L358.15 220.14L355.05 220.14Z" fill="#1f9a5c"/><path d="M364.30 221.81L365.85 219.10L362.75 219.10Z" fill="#1f9a5c"/><path d="M372.00 222.85L373.55 220.14L370.45 220.14Z" fill="#1f9a5c"/><path d="M379.70 221.81L381.25 219.10L378.15 219.10Z" fill="#1f9a5c"/><path d="M387.40 221.81L388.95 219.10L385.85 219.10Z" fill="#1f9a5c"/><path d="M395.10 221.81L396.65 219.10L393.55 219.10Z" fill="#1f9a5c"/><path d="M402.80 221.81L404.35 219.10L401.25 219.10Z" fill="#1f9a5c"/><path d="M410.50 227.01L412.05 224.30L408.95 224.30Z" fill="#1f9a5c"/><path d="M418.20 235.02L419.75 232.30L416.65 232.30Z" fill="#1f9a5c"/><path d="M425.90 247.81L427.45 245.10L424.35 245.10Z" fill="#1f9a5c"/><path d="M433.60 254.47L435.15 251.75L432.05 251.75Z" fill="#1f9a5c"/><path d="M441.30 259.46L442.85 256.74L439.75 256.74Z" fill="#1f9a5c"/><path d="M449.00 256.44L450.55 253.73L447.45 253.73Z" fill="#1f9a5c"/><path d="M456.70 258.52L458.25 255.81L455.15 255.81Z" fill="#1f9a5c"/><path d="M464.40 258.00L465.95 255.29L462.85 255.29Z" fill="#1f9a5c"/><path d="M472.10 266.12L473.65 263.40L470.55 263.40Z" fill="#1f9a5c"/><path d="M479.80 267.05L481.35 264.34L478.25 264.34Z" fill="#1f9a5c"/><path d="M487.50 269.13L489.05 266.42L485.95 266.42Z" fill="#1f9a5c"/><path d="M495.20 275.37L496.75 272.66L493.65 272.66Z" fill="#1f9a5c"/><path d="M502.90 279.22L504.45 276.50L501.35 276.50Z" fill="#1f9a5c"/><path d="M510.60 282.34L512.15 279.62L509.05 279.62Z" fill="#1f9a5c"/><path d="M336.10 289.20H355.80" stroke="#cdcdcd" stroke-width="0.8"/><rect x="344.92" y="288.16" width="2.07" height="2.07" fill="#2a2a2a"/><text x="357.70" y="292.80" font-size="8.3" fill="#1e1e1e">D-HFL</text><path d="M336.10 299.75H355.80" stroke="#ffbcbc" stroke-width="0.8"/><circle cx="345.95" cy="299.75" r="1.21" fill="#f01414"/><text x="357.70" y="303.35" font-size="8.3" fill="#1e1e1e">CFA</text><path d="M336.10 310.30H355.80" stroke="#adcaf6" stroke-width="0.8"/><path d="M345.95 308.75L347.50 311.46L344.40 311.46Z" fill="#1d62e6"/><text x="357.70" y="313.90" font-size="8.3" fill="#1e1e1e">CDFA</text><path d="M336.10 320.85H355.80" stroke="#b3e0c7" stroke-width="0.8"/><path d="M345.95 322.40L347.50 319.69L344.40 319.69Z" fill="#1f9a5c"/><text x="357.70" y="324.45" font-size="8.3" fill="#1e1e1e">Fedavg</text></g>
</svg>
</body></html>
